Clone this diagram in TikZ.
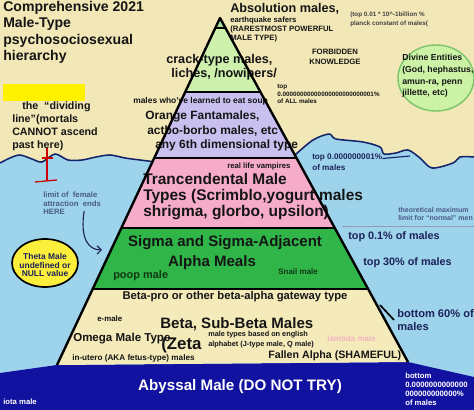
\documentclass[tikz,border=0pt]{standalone}
\usepackage{fontspec}
\setmainfont{Liberation Sans}
\usetikzlibrary{arrows.meta,positioning}
\definecolor{sand}{HTML}{F2E7B6}
\definecolor{sea}{HTML}{9DD4EC}
\definecolor{abyss}{HTML}{1212A0}
\definecolor{tipgreen}{HTML}{A6E3A0}
\definecolor{lime}{HTML}{CDF0AC}
\definecolor{lavender}{HTML}{C9C0F0}
\definecolor{pinkband}{HTML}{F6ABC9}
\definecolor{sigmagreen}{HTML}{2FB548}
\definecolor{cream}{HTML}{F4EABA}
\definecolor{ink}{HTML}{151515}
\definecolor{navy}{HTML}{1C2258}
\definecolor{wave}{HTML}{14246A}
\definecolor{divine}{HTML}{CCF2A6}
\definecolor{divineedge}{HTML}{7CC46A}
\definecolor{theta}{HTML}{FCEF3C}
\definecolor{hilite}{HTML}{FFF200}
\definecolor{lambdapink}{HTML}{F2B4C2}
\definecolor{faint}{HTML}{4A5A88}

\begin{document}
\begin{tikzpicture}[x=0.25mm, y=-0.25mm,
    every node/.style={inner sep=0pt, text=ink},
    fs/.style 2 args={font=\bfseries\fontsize{#1}{#2}\selectfont},
    divider/.style={line width=1.3pt},
    pyredge/.style={line width=1.7pt, line join=round},
    waveline/.style={wave, line width=1.1pt, line cap=round}]
    % Background
    \useasboundingbox (0,0) rectangle (474,410);
    \fill[sand] (0,0) rectangle (474,410);

    % Water
    \fill[sea] plot[smooth] coordinates {(0,163) (10,158) (20,155) (32,159) (42,162) (55,154) (68,160) (82,160) (96,157) (110,155) (125,158) (140,160) (156,162)}
        -- plot[smooth] coordinates {(295,155) (313,140) (329,134) (336,139) (363,142) (380,147) (384,154) (396,153) (408,150) (420,158) (432,168) (453,163) (460,157) (474,157)}
        -- (474,410) -- (0,410) -- cycle;
    \draw[waveline] plot[smooth] coordinates {(0,163) (10,158) (20,155) (32,159) (42,162) (55,154) (68,160) (82,160) (96,157) (110,155) (125,158) (140,160) (156,162)};
    \draw[waveline] plot[smooth] coordinates {(295,155) (313,140) (329,134) (336,139) (363,142) (380,147) (384,154) (396,153) (408,150) (420,158) (432,168) (453,163) (460,157) (474,157)};
    \draw[faint!60, line width=0.5pt] (342,226) -- (474,226);

    % Abyss
    \fill[abyss] (0,373) -- (57,365) -- (408,362) -- (474,377) -- (474,410) -- (0,410) -- cycle;

    % Pyramid corners
    \coordinate (apex) at (220,18);
    \coordinate (bl) at (57,365);
    \coordinate (br) at (408,362);
    \coordinate (l1) at (215.3,28);  \coordinate (r1) at (225.5,28);
    \coordinate (l2) at (185.2,92);  \coordinate (r2) at (260.4,92);
    \coordinate (l3) at (154.2,158); \coordinate (r3) at (296.5,158);
    \coordinate (l4) at (121.4,228); \coordinate (r4) at (334.8,228);
    \coordinate (l5) at (92.7,289);  \coordinate (r5) at (368.1,289);

    % Bands
    \fill[tipgreen] (apex) -- (r1) -- (l1) -- cycle;
    \fill[lime] (l1) -- (r1) -- (r2) -- (l2) -- cycle;
    \fill[lavender] (l2) -- (r2) -- (r3) -- (l3) -- cycle;
    \fill[pinkband] (l3) -- (r3) -- (r4) -- (l4) -- cycle;
    \fill[sigmagreen] (l4) -- (r4) -- (r5) -- (l5) -- cycle;
    \fill[cream] (l5) -- (r5) -- (br) -- (bl) -- cycle;
    \foreach \i in {1,...,5}
        \draw[divider] (l\i) -- (r\i);

    % Circles
    \draw[divineedge, fill=divine, line width=1pt] (436,78) ellipse (9.5mm and 8.25mm);
    \draw[fill=theta, line width=1.2pt] (45,263) ellipse (8.25mm and 6mm);
    \fill[hilite] (3,84) rectangle (85,101);

    % Title and top labels
    \node[fs={10}{11.7}, anchor=north west, align=left] (title) at (3,1) {Comprehensive 2021\\Male-Type\\psychosociosexual\\hierarchy};
    \node[fs={9}{10}, anchor=west] (absol) at (230,9) {Absolution males,};
    \node[fs={5.5}{6.7}, anchor=west, align=left] (quake) at (230,29.5) {earthquake safers\\(RARESTMOST POWERFUL\\MALE TYPE)};
    \node[fs={4.5}{6.4}, anchor=west, align=left, text=ink!80] (planck) at (350,19.5) {(top 0.01 * 10\textasciicircum-1billion \%\\planck constant of males(};
    \node[fs={5.5}{7}, align=center] (forbid) at (335,57) {FORBIDDEN\\KNOWLEDGE};
    \node[fs={6.2}{8.2}, anchor=west, align=left] (divtxt) at (402,76) {Divine Entities\\(God, hephastus,\\amun-ra, penn\\jillette, etc)};
    \node[fs={7.6}{9.2}, anchor=west, align=left] (divide) at (12,126.5) {\hspace*{2.5mm}the~ ``dividing\\line''(mortals\\CANNOT ascend\\past here)};

    % Upper pyramid
    \node[fs={9}{9.9}, anchor=west, align=left] (crack) at (166,67) {crack-type males,\\\hspace*{1.3mm}liches, /nowipers/};
    \node[fs={4.5}{5.3}, anchor=west, align=left] (soupTop) at (277,94) {top\\0.00000000000000000000000001\%\\of ALL males};
    \node[fs={6}{7}, anchor=west] (soup) at (133,101) {males who've learned to eat soup};
    \node[fs={8.5}{10}, anchor=west] (orange1) at (145,116) {Orange Fantamales,};
    \node[fs={8.5}{10}, anchor=west] (orange2) at (147,131) {actbo-borbo males, etc};
    \node[fs={8.5}{10}, anchor=west] (orange3) at (155,145) {any 6th dimensional type};
    \node[fs={5.5}{6.5}, anchor=west] (vamp) at (227,167) {real life vampires};
    \node[fs={11}{11.4}, anchor=west, align=left] (trans) at (143,197) {Trancendental Male\\Types (Scrimblo,yogurt males\\shrigma, glorbo, upsilon)};

    % Sigma band
    \node[fs={10.7}{12}] (sigma1) at (225,243) {Sigma and Sigma-Adjacent};
    \node[fs={10.7}{12}] (sigma2) at (212,263) {Alpha Meals};
    \node[fs={7.8}{9}, anchor=west, text=ink!85!green] (poop) at (113,276) {poop male};
    \node[fs={5.7}{7}, anchor=west, text=ink!85!green] (snail) at (278,272) {Snail male};

    % Beta band
    \node[fs={8}{9}] (betapro) at (235,297) {Beta-pro or other beta-alpha gateway type};
    \node[fs={5.6}{7}, anchor=west] (emale) at (97,319) {e-male};
    \node[fs={10.7}{12}, anchor=west] (beta) at (160,324) {Beta, Sub-Beta Males};
    \node[fs={8.2}{9}, anchor=west] (omega) at (73,339) {Omega Male Type};
    \node[fs={12}{13}, anchor=west] (zeta) at (161,345) {(Zeta};
    \node[fs={5.2}{7}, anchor=west, align=left] (alphabet) at (208,340) {male types based on english\\alphabet (J-type male, Q male)};
    \node[fs={5.7}{7}, anchor=west, text=lambdapink] (lambda) at (327,339) {lambda male};
    \node[fs={5.8}{7}, anchor=west] (utero) at (72,358) {in-utero (AKA fetus-type) males};
    \node[fs={7.6}{9}, anchor=west] (fallen) at (268,356) {Fallen Alpha (SHAMEFUL)};

    % Abyss labels
    \node[fs={10.8}{12}, text=white] (abyssal) at (240,387) {Abyssal Male (DO NOT TRY)};
    \node[fs={5.5}{7}, anchor=west, text=white] (iota) at (3,402) {iota male};
    \node[fs={5.5}{6.4}, anchor=west, align=left, text=white] (bottomTiny) at (405,389) {bottom\\0.0000000000000\\000000000000\%\\of males};

    % Right labels
    \node[fs={5.8}{7.7}, anchor=west, align=left, text=navy] (topTiny) at (312,162.5) {top 0.000000001\%\\of males};
    \node[fs={5}{5.7}, anchor=west, align=left, text=faint] (theory) at (398,214) {theoretical maximum\\limit for ``normal'' men};
    \node[fs={7.7}{9}, anchor=west, text=navy] (top01) at (348,237) {top 0.1\% of males};
    \node[fs={7.7}{9}, anchor=west, text=navy] (top30) at (363,263) {top 30\% of males};
    \node[fs={7.9}{9.2}, anchor=west, align=left, text=navy] (bottom60) at (397,320) {bottom 60\% of\\males};

    % Left labels
    \node[fs={5.5}{6}, anchor=west, align=left, text=faint] (limit) at (43,203.5) {limit of~ female\\attraction~ ends\\HERE};
    \node[fs={6}{6.3}, align=center, text=navy] (thetatxt) at (45,265) {Theta Male\\undefined or\\NULL value};

    % Pyramid edges
    \draw[pyredge] (bl) -- (apex) -- (br);

    % Marks
    \draw[red!80!black, line width=0.9pt] (47,148) -- (47,181);
    \draw[red!80!black, line width=0.9pt] (42,158) -- (53,158);
    \draw[red!80!black, line width=0.9pt] (35,182) -- (57,180);
    \coordinate (aim) at (102,250);
    \draw[navy, line width=0.8pt, -{Straight Barb[length=3pt]}] ([xshift=-4.25mm, yshift=1mm]limit.south east) .. controls (80,238) and (88,250) .. (aim);
    \coordinate (scrib) at (410,156);
    \draw[wave, line width=0.8pt] ([yshift=1mm]topTiny.east) -- (scrib);
    \coordinate (c60) at (380,305);
    \draw[line width=1.2pt] (c60) -- ([xshift=-0.75mm]bottom60.west);
\end{tikzpicture}
\end{document}
